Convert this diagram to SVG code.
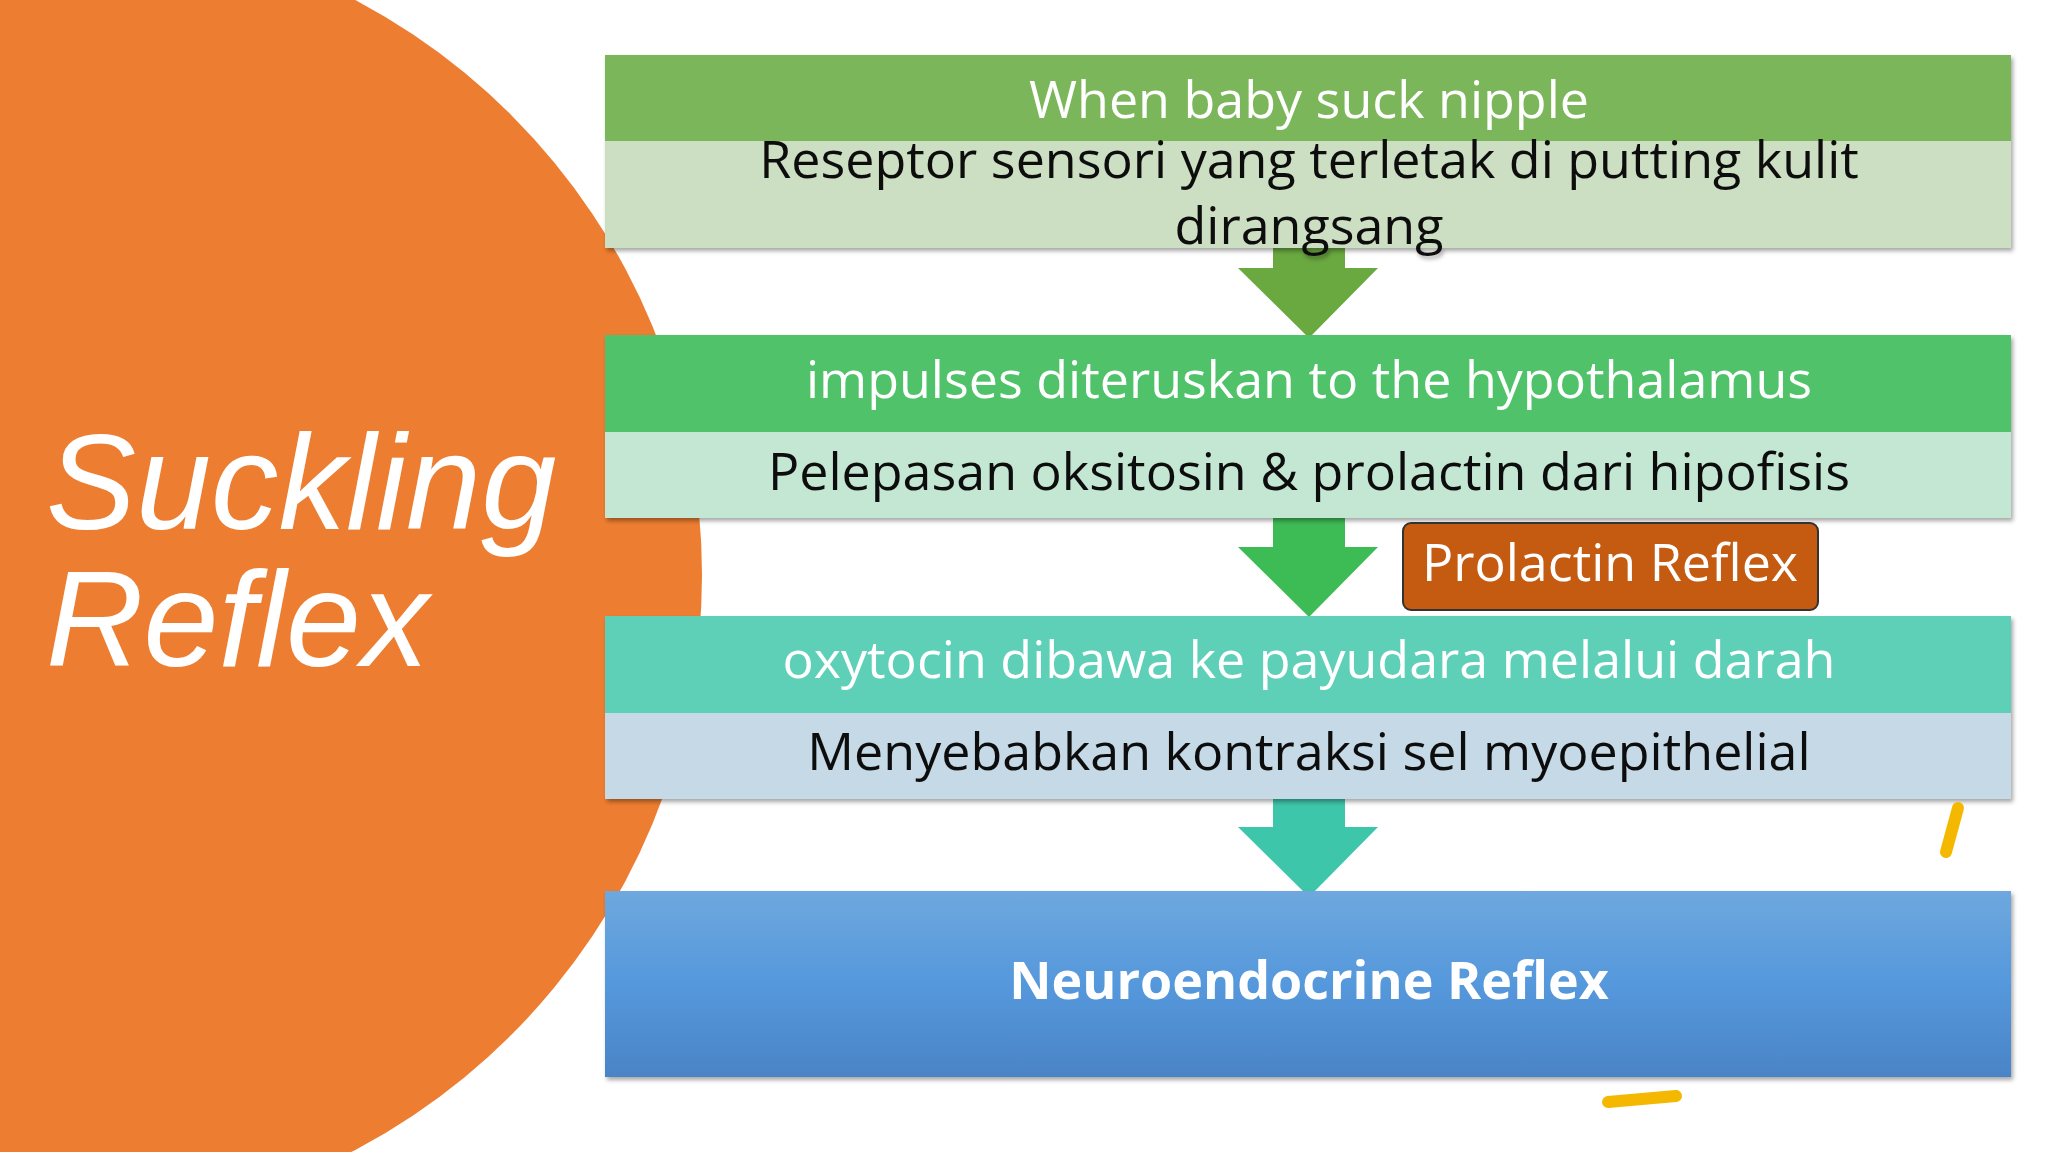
<svg xmlns="http://www.w3.org/2000/svg" width="2048" height="1152" viewBox="0 0 2048 1152">
<style>
.t{font-family:"Open Sans","Liberation Sans",sans-serif;text-anchor:middle;font-size:52px}
.w{fill:#fff}.k{fill:#111}
</style>
<defs>
<linearGradient id="g4" x1="0" y1="0" x2="0" y2="1"><stop offset="0" stop-color="#6ea8de"/><stop offset="0.5" stop-color="#5598dc"/><stop offset="1" stop-color="#4a84c6"/></linearGradient>
<filter id="sh"><feDropShadow dx="2" dy="3" stdDeviation="2" flood-opacity="0.35"/></filter>
</defs>
<rect width="2048" height="1152" fill="#fff"/>
<circle cx="52" cy="575" r="650" fill="#ed7d31"/>
<text x="46" y="529" font-family="Liberation Sans,sans-serif" font-style="italic" font-size="135" fill="#fff">Suckling</text>
<text x="46" y="666" font-family="Liberation Sans,sans-serif" font-style="italic" font-size="135" fill="#fff">Reflex</text>
<g id="connectors">
<path d="M1273 248H1345V268H1378L1309 338L1238 268H1273Z" fill="#6aa840"/>
<path d="M1273 517H1345V547H1378L1309 617L1238 547H1273Z" fill="#3dbb55"/>
<path d="M1273 797H1345V827H1378L1309 897L1238 827H1273Z" fill="#3ec6aa"/>
</g>
<g id="n1" filter="url(#sh)">
<rect x="605" y="55" width="1406" height="86" fill="#7cb65a"/>
<rect x="605" y="141" width="1406" height="107" fill="#cddfc3"/>
<text class="t w" x="1309" y="118">When baby suck nipple</text>
<text class="t k" x="1309" y="178">Reseptor sensori yang terletak di putting kulit</text>
<text class="t k" x="1309" y="244">dirangsang</text>
</g>
<g id="n2" filter="url(#sh)">
<rect x="605" y="335" width="1406" height="97" fill="#4fc26a"/>
<rect x="605" y="432" width="1406" height="86" fill="#c3e7d3"/>
<text class="t w" x="1309" y="398">impulses diteruskan to the hypothalamus</text>
<text class="t k" x="1309" y="490">Pelepasan oksitosin &amp; prolactin dari hipofisis</text>
</g>
<g id="n3" filter="url(#sh)">
<rect x="605" y="616" width="1406" height="97" fill="#5fd0b8"/>
<rect x="605" y="713" width="1406" height="86" fill="#c6d9e6"/>
<text class="t w" x="1309" y="678">oxytocin dibawa ke payudara melalui darah</text>
<text class="t k" x="1309" y="770">Menyebabkan kontraksi sel myoepithelial</text>
</g>
<g id="n4" filter="url(#sh)">
<rect x="605" y="891" width="1406" height="186" fill="url(#g4)"/>
<text class="t w" x="1309" y="999" font-weight="bold" font-size="50">Neuroendocrine Reflex</text>
</g>
<g id="prolactin">
<rect x="1403" y="523" width="415" height="87" rx="8" fill="#c55a11" stroke="#333" stroke-width="2"/>
<text class="t w" x="1610" y="581" font-size="37">Prolactin Reflex</text>
</g>
<path d="M1958 808L1946 852" stroke="#f5b800" stroke-width="12" stroke-linecap="round" fill="none"/>
<path d="M1608 1102L1676 1096" stroke="#f5b800" stroke-width="12" stroke-linecap="round" fill="none"/>
</svg>
